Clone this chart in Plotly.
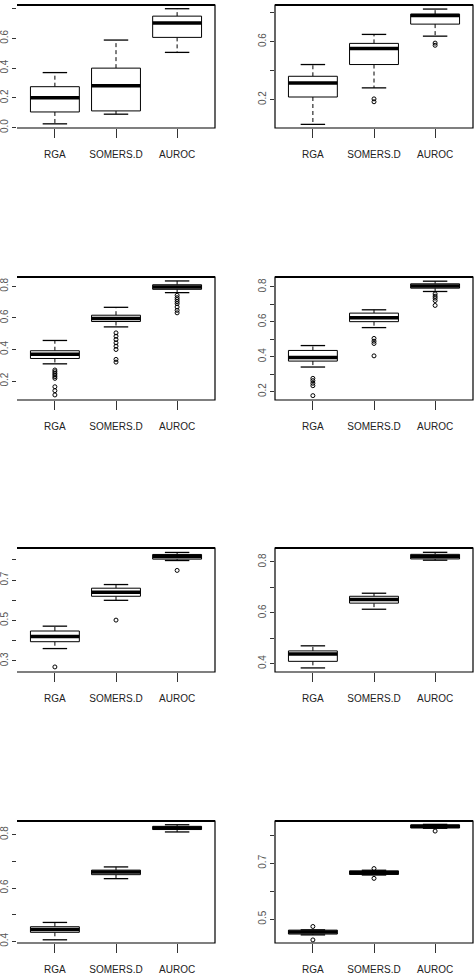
"""
Boxplots RGA / SOMERS.D / AUROC em grade 4x2 (estilo R base graphics)
"""

import plotly.graph_objects as go
from plotly.subplots import make_subplots

# categorias
categories = ['RGA', 'SOMERS.D', 'AUROC']

# estatisticas por painel: [whisker inferior, Q1, mediana, Q3, whisker superior]
panel1 = [[0.025, 0.105, 0.200, 0.275, 0.370],
          [0.090, 0.112, 0.282, 0.400, 0.589],
          [0.506, 0.607, 0.703, 0.750, 0.800]]
panel2 = [[0.029, 0.218, 0.315, 0.361, 0.442],
          [0.281, 0.442, 0.553, 0.588, 0.650],
          [0.638, 0.721, 0.781, 0.790, 0.825]]
panel3 = [[0.309, 0.343, 0.370, 0.392, 0.457],
          [0.543, 0.577, 0.596, 0.617, 0.667],
          [0.760, 0.781, 0.796, 0.810, 0.834]]
panel4 = [[0.341, 0.375, 0.396, 0.436, 0.464],
          [0.567, 0.601, 0.624, 0.650, 0.669],
          [0.774, 0.793, 0.806, 0.818, 0.833]]
panel5 = [[0.361, 0.395, 0.421, 0.448, 0.472],
          [0.600, 0.620, 0.640, 0.660, 0.678],
          [0.797, 0.804, 0.817, 0.827, 0.837]]
panel6 = [[0.383, 0.409, 0.438, 0.450, 0.470],
          [0.614, 0.638, 0.652, 0.665, 0.677],
          [0.807, 0.812, 0.822, 0.830, 0.838]]
panel7 = [[0.406, 0.434, 0.445, 0.455, 0.471],
          [0.635, 0.650, 0.660, 0.667, 0.679],
          [0.810, 0.819, 0.825, 0.831, 0.837]]
panel8 = [[0.444, 0.447, 0.454, 0.461, 0.462],
          [0.658, 0.660, 0.666, 0.673, 0.675],
          [0.825, 0.826, 0.832, 0.837, 0.839]]

# outliers por painel (RGA, SOMERS.D, AUROC)
panel1_out = [[], [], []]
panel2_out = [[], [0.205, 0.185], [0.590, 0.575]]
panel3_out = [[0.270, 0.259, 0.248, 0.238, 0.227, 0.217, 0.164, 0.139, 0.112],
              [0.505, 0.484, 0.463, 0.442, 0.421, 0.400, 0.337, 0.320],
              [0.743, 0.728, 0.716, 0.703, 0.690, 0.669, 0.648, 0.632]]
panel4_out = [[0.276, 0.263, 0.248, 0.234, 0.177],
              [0.505, 0.489, 0.476, 0.405],
              [0.760, 0.747, 0.736, 0.722, 0.694]]
panel5_out = [[0.270], [0.502], [0.748]]
panel6_out = [[], [], []]
panel7_out = [[], [], []]
panel8_out = [[0.474, 0.426], [0.681, 0.646], [0.815]]

# eixos y: marcas e rotulos (R omite rotulos sobrepostos)
panel1_ticks = [0.0, 0.2, 0.4, 0.6, 0.8]
panel1_labels = ['0.0', '0.2', '0.4', '0.6', '0.8']
panel2_ticks = [0.2, 0.4, 0.6, 0.8]
panel2_labels = ['0.2', '', '0.6', '']
panel3_ticks = [0.2, 0.4, 0.6, 0.8]
panel3_labels = ['0.2', '0.4', '0.6', '0.8']
panel4_ticks = [0.2, 0.3, 0.4, 0.5, 0.6, 0.7, 0.8]
panel4_labels = ['0.2', '', '0.4', '', '0.6', '', '0.8']
panel5_ticks = [0.3, 0.4, 0.5, 0.6, 0.7, 0.8]
panel5_labels = ['0.3', '', '0.5', '', '0.7', '']
panel6_ticks = [0.4, 0.5, 0.6, 0.7, 0.8]
panel6_labels = ['0.4', '', '0.6', '', '0.8']
panel7_ticks = [0.4, 0.5, 0.6, 0.7, 0.8]
panel7_labels = ['0.4', '', '0.6', '', '0.8']
panel8_ticks = [0.5, 0.6, 0.7, 0.8]
panel8_labels = ['0.5', '', '0.7', '']

# limites y de cada painel
panel_yranges = [[-0.003, 0.825], [0.004, 0.853], [0.080, 0.859], [0.152, 0.857],
                 [0.245, 0.859], [0.367, 0.855], [0.394, 0.851], [0.415, 0.851]]

panels = [
    (panel1, panel1_out, panel1_ticks, panel1_labels),
    (panel2, panel2_out, panel2_ticks, panel2_labels),
    (panel3, panel3_out, panel3_ticks, panel3_labels),
    (panel4, panel4_out, panel4_ticks, panel4_labels),
    (panel5, panel5_out, panel5_ticks, panel5_labels),
    (panel6, panel6_out, panel6_ticks, panel6_labels),
    (panel7, panel7_out, panel7_ticks, panel7_labels),
    (panel8, panel8_out, panel8_ticks, panel8_labels),
]

W, H = 474, 974
col_px = [(17, 215), (275, 473)]
row_px = [(5, 128), (277, 400), (548, 672), (821, 943)]

fig = make_subplots(rows=4, cols=2)

half = 0.4   # meia largura da caixa (boxwex 0.8)
cap = 0.2    # meia largura do traco do whisker

for k, (stats, outs, ticks, labels) in enumerate(panels):
    row, col = k // 2 + 1, k % 2 + 1

    bx, by, mx, my, wx, wy, cx, cy, ox, oy = [], [], [], [], [], [], [], [], [], []
    for i, s in enumerate(stats):
        x = i + 1
        lo, q1, med, q3, hi = s
        bx += [x - half, x + half, x + half, x - half, x - half, None]
        by += [q1, q1, q3, q3, q1, None]
        mx += [x - half, x + half, None]
        my += [med, med, None]
        wx += [x, x, None, x, x, None]
        wy += [q3, hi, None, q1, lo, None]
        cx += [x - cap, x + cap, None, x - cap, x + cap, None]
        cy += [hi, hi, None, lo, lo, None]
        ox += [x] * len(outs[i])
        oy += outs[i]

    # whiskers tracejados
    fig.add_trace(go.Scatter(x=wx, y=wy, mode='lines',
                             line=dict(color='black', width=1, dash='4px,3px')),
                  row=row, col=col)
    # caixas
    fig.add_trace(go.Scatter(x=bx, y=by, mode='lines', fill='toself', fillcolor='white',
                             line=dict(color='black', width=1)),
                  row=row, col=col)
    # tracos dos whiskers
    fig.add_trace(go.Scatter(x=cx, y=cy, mode='lines',
                             line=dict(color='black', width=1.3)),
                  row=row, col=col)
    # medianas
    fig.add_trace(go.Scatter(x=mx, y=my, mode='lines',
                             line=dict(color='black', width=3.5)),
                  row=row, col=col)
    # outliers
    if ox:
        fig.add_trace(go.Scatter(x=ox, y=oy, mode='markers',
                                 marker=dict(symbol='circle-open', size=4, color='black',
                                             line=dict(width=1, color='black'))),
                      row=row, col=col)

    x0, x1 = col_px[col - 1]
    y0, y1 = row_px[row - 1]
    fig.update_xaxes(domain=[x0 / W, x1 / W], range=[0.38, 3.62],
                     tickvals=[1, 2, 3], ticktext=categories,
                     ticks='outside', ticklen=9, tickcolor='#333',
                     showline=False, showgrid=False, zeroline=False,
                     automargin=False, ticklabelstandoff=8,
                     tickfont=dict(family='Liberation Sans Narrow, Arial Narrow, Liberation Sans',
                                   size=10, color='#222'),
                     row=row, col=col)
    fig.update_yaxes(domain=[1 - y1 / H, 1 - y0 / H], range=panel_yranges[k],
                     tickvals=ticks, ticktext=labels, tickangle=-90,
                     ticks='outside', ticklen=4, tickcolor='#333',
                     showline=False, showgrid=False, zeroline=False,
                     automargin=False,
                     tickfont=dict(family='Liberation Sans, Arial', size=10, color='#555'),
                     row=row, col=col)

    # moldura (paineis da esquerda sem borda esquerda, como na imagem)
    xa = fig.get_subplot(row, col).xaxis.plotly_name.replace('axis', '')
    ya = fig.get_subplot(row, col).yaxis.plotly_name.replace('axis', '')
    if col == 1:
        path = 'M 0,1 L 1,1 L 1,0 L 0,0'
    else:
        path = 'M 0,1 L 1,1 L 1,0 L 0,0 Z'
    fig.add_shape(type='path', path=path, xref=xa + ' domain', yref=ya + ' domain',
                  line=dict(color='black', width=1.2))
    # borda superior mais grossa
    fig.add_shape(type='line', x0=0, x1=1, y0=1, y1=1,
                  xref=xa + ' domain', yref=ya + ' domain',
                  line=dict(color='black', width=2))

fig.update_layout(
    width=W, height=H,
    margin=dict(l=0, r=0, t=0, b=0),
    showlegend=False,
    plot_bgcolor='white',
    paper_bgcolor='white',
)

# sem margem do <body> para a figura ocupar a janela inteira
fig.write_html("out.html", config={'displayModeBar': False},
               post_script="document.body.style.margin='0';")
